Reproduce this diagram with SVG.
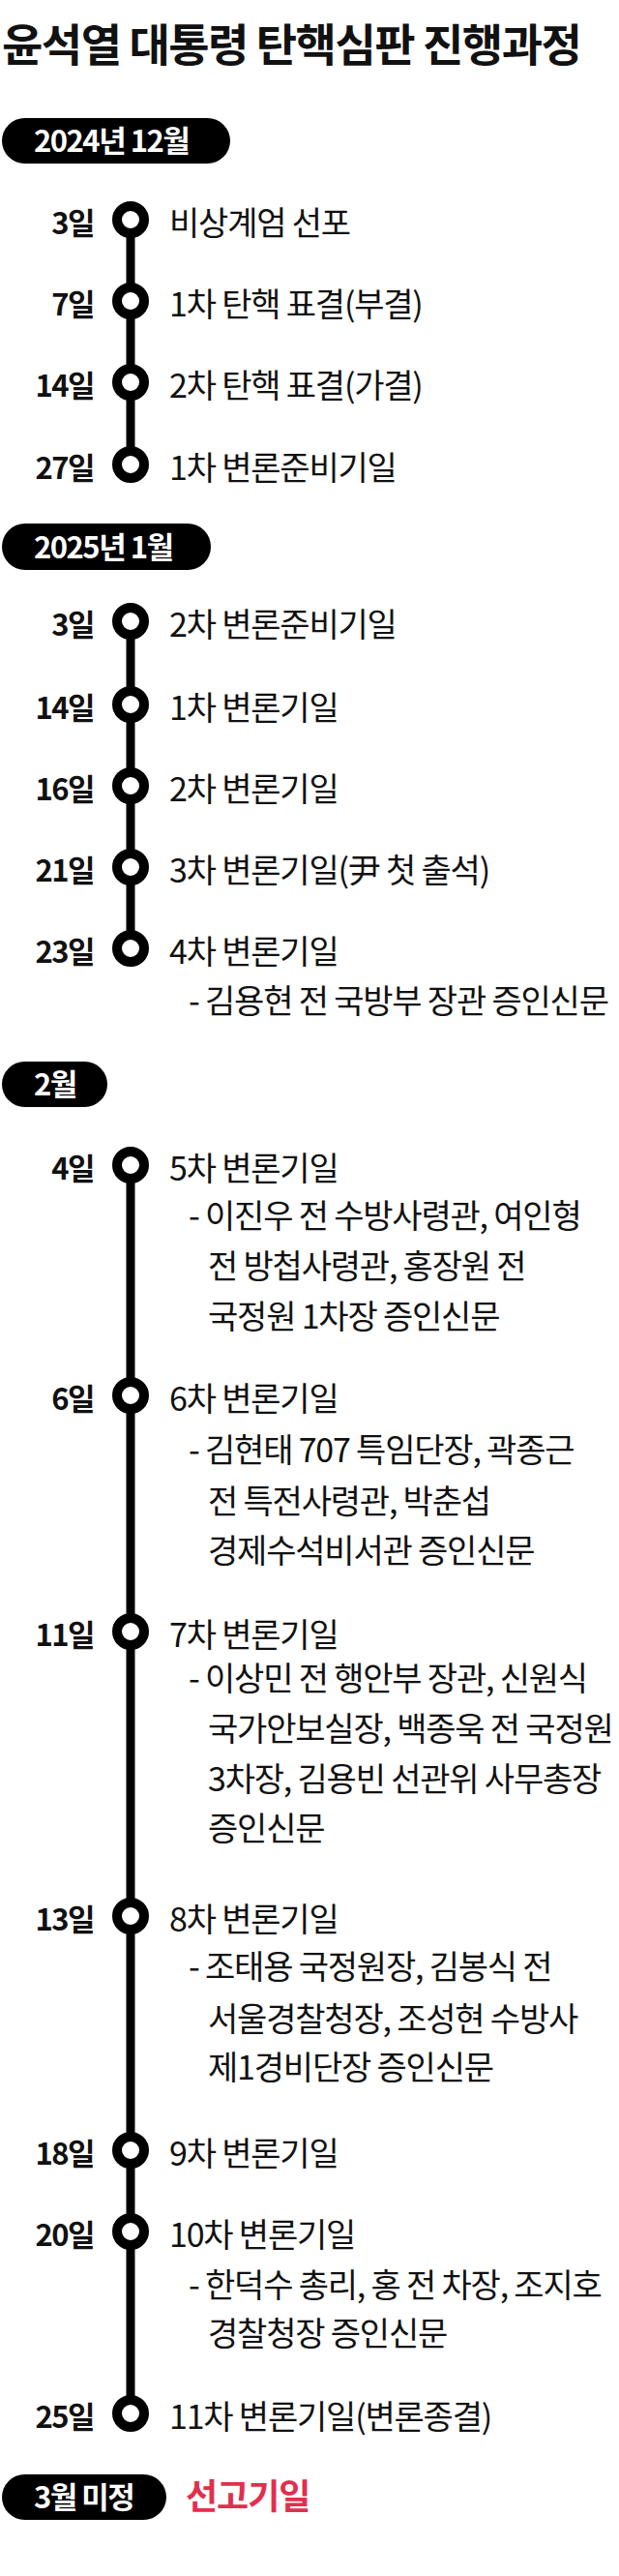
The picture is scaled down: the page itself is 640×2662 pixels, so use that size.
<svg xmlns="http://www.w3.org/2000/svg" width="640" height="2662" viewBox="0 0 640 2662">
<style>
text{font-family:"Noto Sans CJK KR","Noto Sans",sans-serif;}
.title{font-size:46px;font-weight:700;fill:#111;letter-spacing:-1.5px}
.pill{fill:#000}
.pt{font-size:31px;font-weight:700;fill:#fff;letter-spacing:-1.5px}
.d{font-size:31px;font-weight:700;fill:#111;text-anchor:end;letter-spacing:-1.5px}
.e{font-size:34px;fill:#111;letter-spacing:-1.2px}
.dot{fill:#fff;stroke:#000;stroke-width:10}
.ln{stroke:#000;stroke-width:9}
.red{font-size:36px;font-weight:700;fill:#e0304e;letter-spacing:-1px}
</style>
<text class="title" x="2" y="63">윤석열 대통령 탄핵심판 진행과정</text>
<g id="month-2024-12"><rect class="pill" x="2" y="122" width="236" height="47" rx="23.5"/><text class="pt" x="35" y="157">2024년 12월</text></g>
<g id="month-2025-1"><rect class="pill" x="2" y="541" width="216" height="48" rx="24"/><text class="pt" x="35" y="577">2025년 1월</text></g>
<g id="month-2"><rect class="pill" x="2" y="1097" width="109" height="47" rx="23.5"/><text class="pt" x="35" y="1132">2월</text></g>
<g id="month-3"><rect class="pill" x="2" y="2557" width="170" height="47" rx="23.5"/><text class="pt" x="35" y="2592">3월 미정</text><text class="red" x="192" y="2593">선고기일</text></g>
<g id="connectors">
<line class="ln" x1="135" y1="227" x2="135" y2="480"/>
<line class="ln" x1="135" y1="642" x2="135" y2="980"/>
<line class="ln" x1="135" y1="1204" x2="135" y2="2494"/>
</g>
<g id="d12-3"><circle class="dot" cx="135" cy="227" r="14"/><text class="d" x="97" y="242">3일</text><text class="e" x="175" y="243">비상계엄 선포</text></g>
<g id="d12-7"><circle class="dot" cx="135" cy="311" r="14"/><text class="d" x="97" y="326">7일</text><text class="e" x="175" y="327">1차 탄핵 표결(부결)</text></g>
<g id="d12-14"><circle class="dot" cx="135" cy="395" r="14"/><text class="d" x="97" y="410">14일</text><text class="e" x="175" y="411">2차 탄핵 표결(가결)</text></g>
<g id="d12-27"><circle class="dot" cx="135" cy="480" r="14"/><text class="d" x="97" y="495">27일</text><text class="e" x="175" y="496">1차 변론준비기일</text></g>
<g id="d1-3"><circle class="dot" cx="135" cy="642" r="14"/><text class="d" x="97" y="657">3일</text><text class="e" x="175" y="658">2차 변론준비기일</text></g>
<g id="d1-14"><circle class="dot" cx="135" cy="728" r="14"/><text class="d" x="97" y="743">14일</text><text class="e" x="175" y="744">1차 변론기일</text></g>
<g id="d1-16"><circle class="dot" cx="135" cy="812" r="14"/><text class="d" x="97" y="827">16일</text><text class="e" x="175" y="828">2차 변론기일</text></g>
<g id="d1-21"><circle class="dot" cx="135" cy="896" r="14"/><text class="d" x="97" y="911">21일</text><text class="e" x="175" y="912">3차 변론기일(尹 첫 출석)</text></g>
<g id="d1-23"><circle class="dot" cx="135" cy="980" r="14"/><text class="d" x="97" y="995">23일</text><text class="e" x="175" y="996">4차 변론기일</text><text class="e" x="195" y="1047">- 김용현 전 국방부 장관 증인신문</text></g>
<g id="d2-4"><circle class="dot" cx="135" cy="1204" r="14"/><text class="d" x="97" y="1219">4일</text><text class="e" x="175" y="1220">5차 변론기일</text>
<text class="e" x="195" y="1269">- 이진우 전 수방사령관, 여인형</text><text class="e" x="215" y="1321">전 방첩사령관, 홍장원 전</text><text class="e" x="215" y="1373">국정원 1차장 증인신문</text></g>
<g id="d2-6"><circle class="dot" cx="135" cy="1442" r="14"/><text class="d" x="97" y="1457">6일</text><text class="e" x="175" y="1458">6차 변론기일</text>
<text class="e" x="195" y="1511">- 김현태 707 특임단장, 곽종근</text><text class="e" x="215" y="1564">전 특전사령관, 박춘섭</text><text class="e" x="215" y="1615">경제수석비서관 증인신문</text></g>
<g id="d2-11"><circle class="dot" cx="135" cy="1686" r="14"/><text class="d" x="97" y="1701">11일</text><text class="e" x="175" y="1702">7차 변론기일</text>
<text class="e" x="195" y="1747">- 이상민 전 행안부 장관, 신원식</text><text class="e" x="215" y="1799">국가안보실장, 백종욱 전 국정원</text><text class="e" x="215" y="1851">3차장, 김용빈 선관위 사무총장</text><text class="e" x="215" y="1902">증인신문</text></g>
<g id="d2-13"><circle class="dot" cx="135" cy="1980" r="14"/><text class="d" x="97" y="1995">13일</text><text class="e" x="175" y="1996">8차 변론기일</text>
<text class="e" x="195" y="2045">- 조태용 국정원장, 김봉식 전</text><text class="e" x="215" y="2099">서울경찰청장, 조성현 수방사</text><text class="e" x="215" y="2149">제1경비단장 증인신문</text></g>
<g id="d2-18"><circle class="dot" cx="135" cy="2222" r="14"/><text class="d" x="97" y="2237">18일</text><text class="e" x="175" y="2238">9차 변론기일</text></g>
<g id="d2-20"><circle class="dot" cx="135" cy="2306" r="14"/><text class="d" x="97" y="2321">20일</text><text class="e" x="175" y="2322">10차 변론기일</text>
<text class="e" x="195" y="2374">- 한덕수 총리, 홍 전 차장, 조지호</text><text class="e" x="215" y="2424">경찰청장 증인신문</text></g>
<g id="d2-25"><circle class="dot" cx="135" cy="2494" r="14"/><text class="d" x="97" y="2509">25일</text><text class="e" x="175" y="2510">11차 변론기일(변론종결)</text></g>
</svg>
